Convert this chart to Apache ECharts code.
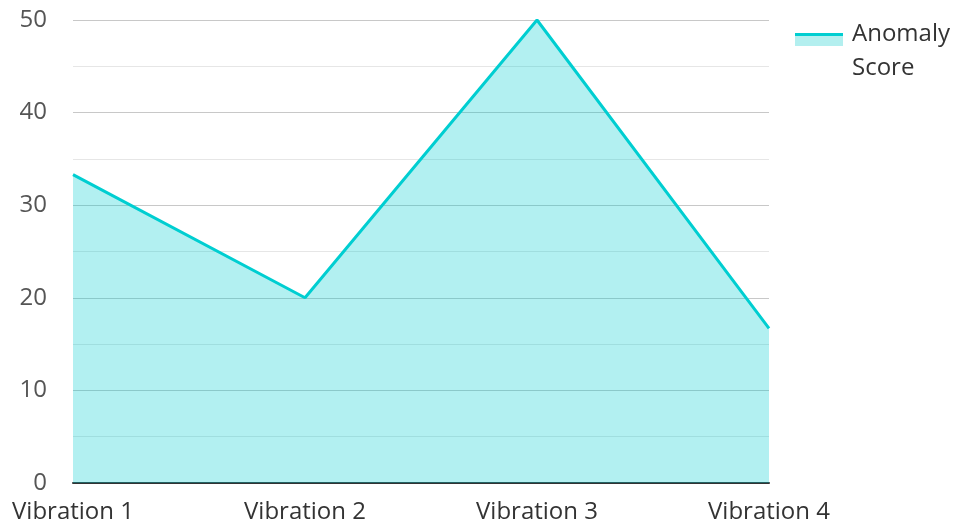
<!DOCTYPE html>
<html>
<head>
<meta charset="utf-8">
<script src="https://cdn.jsdelivr.net/npm/echarts@6/dist/echarts.min.js"></script>
<style>html,body{margin:0;padding:0;background:#fff}#c{width:957px;height:524px}</style>
</head>
<body>
<div id="c"></div>
<script>
const categories = ['Vibration 1', 'Vibration 2', 'Vibration 3', 'Vibration 4'];
const anomalyScore = [33.3, 20, 50, 16.7];
const seriesName = 'Anomaly\nScore';

const lineColor = '#00CED1';
const chart = echarts.init(document.getElementById('c'), null, {renderer: 'canvas'});
chart.setOption({
  animation: false,
  textStyle: {fontFamily: 'Open Sans'},
  grid: {left: 73, right: 188, top: 20, bottom: 40, containLabel: false},
  legend: {
    left: 795, top: 17, padding: 0,
    itemWidth: 48, itemHeight: 36,
    icon: 'path://M0,0L48,0L48,13L0,13Z M0,35.99L0.01,35.99L0.01,36L0,36Z',
    data: [{
      name: seriesName,
      itemStyle: {
        color: new echarts.graphic.LinearGradient(0, 0, 0, 1, [
          {offset: 0, color: lineColor}, {offset: 3 / 36, color: lineColor},
          {offset: 3 / 36, color: '#b3efef'}, {offset: 13 / 36, color: '#b3efef'},
          {offset: 13 / 36, color: 'rgba(255,255,255,0)'}, {offset: 1, color: 'rgba(255,255,255,0)'}
        ])
      }
    }],
    textStyle: {fontSize: 24, color: '#333', lineHeight: 34, padding: [0, 0, 0, 4], fontFamily: 'Open Sans'}
  },
  xAxis: {
    type: 'category',
    data: categories,
    boundaryGap: false,
    axisLine: {lineStyle: {color: '#333', width: 2}},
    axisTick: {show: false},
    axisLabel: {fontSize: 24, color: '#333', margin: 17, fontFamily: 'Open Sans'},
    splitLine: {show: false}
  },
  yAxis: {
    type: 'value',
    min: 0, max: 50, interval: 10,
    axisLine: {show: false},
    axisTick: {show: false},
    axisLabel: {fontSize: 24, color: '#555', margin: 26, fontFamily: 'Open Sans'},
    splitLine: {lineStyle: {color: '#c8c8c8', width: 1}},
    minorTick: {show: false, splitNumber: 2},
    minorSplitLine: {show: true, lineStyle: {color: '#e6e6e6', width: 1}}
  },
  series: [{
    name: seriesName,
    type: 'line',
    data: anomalyScore,
    showSymbol: false,
    symbol: 'none',
    lineStyle: {color: lineColor, width: 3},
    itemStyle: {color: lineColor},
    areaStyle: {color: lineColor, opacity: 0.3}
  }]
});
</script>
</body>
</html>
